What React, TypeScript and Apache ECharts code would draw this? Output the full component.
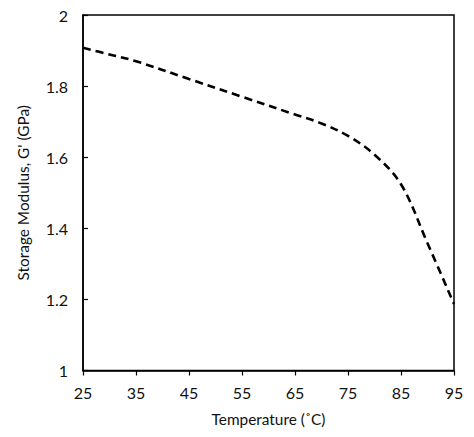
import React, { useEffect, useRef } from "react";
import * as echarts from "echarts";

const temperatures = [25, 30, 35, 45, 55, 65, 70, 75, 80, 85, 90, 95];
const storageModulus = [1.908, 1.889, 1.870, 1.820, 1.770, 1.720, 1.695, 1.660, 1.607, 1.524, 1.358, 1.187];
const xTicks = { min: 25, max: 95, interval: 10 };
const yTicks = { min: 1, max: 2, interval: 0.2 };
const xName = "Temperature (˚C)";
const yName = "Storage Modulus, G' (GPa)";

export default function App() {
  const ref = useRef<HTMLDivElement>(null);
  useEffect(() => {
    if (!ref.current) return;
    const chart = echarts.init(ref.current, undefined, { renderer: "svg" });
    const font = "Lato, 'Open Sans', sans-serif";
    chart.setOption({
      animation: false,
      backgroundColor: "#fff",
      grid: {
        left: 83,
        top: 15,
        right: 20,
        bottom: 66.5,
        show: true,
        borderColor: "#000",
        borderWidth: 1.5,
      },
      xAxis: {
        type: "value",
        min: xTicks.min,
        max: xTicks.max,
        interval: xTicks.interval,
        name: xName,
        nameLocation: "middle",
        nameGap: 41,
        nameTextStyle: { color: "#111", fontSize: 15.4, fontFamily: font },
        axisLine: { show: true, lineStyle: { color: "#000", width: 1.5 } },
        axisTick: { show: true, inside: false, length: 5, lineStyle: { color: "#000", width: 1.2 } },
        axisLabel: { color: "#111", fontSize: 16, fontFamily: font, margin: 14 },
        splitLine: { show: false },
      },
      yAxis: {
        type: "value",
        min: yTicks.min,
        max: yTicks.max,
        interval: yTicks.interval,
        name: yName,
        nameLocation: "middle",
        nameGap: 53,
        nameRotate: 90,
        nameTextStyle: { color: "#111", fontSize: 15.4, fontFamily: font },
        axisLine: { show: true, lineStyle: { color: "#000", width: 1.5 } },
        axisTick: { show: true, inside: true, length: 5, lineStyle: { color: "#000", width: 1.2 } },
        axisLabel: { color: "#111", fontSize: 16, fontFamily: font, margin: 15 },
        splitLine: { show: false },
      },
      series: [
        {
          type: "line",
          data: temperatures.map((t, i) => [t, storageModulus[i]]),
          smooth: 0.35,
          showSymbol: false,
          symbol: "none",
          lineStyle: { color: "#000", width: 2.6, type: [8, 5] },
        },
      ],
    });
    return () => chart.dispose();
  }, []);
  return (
    <div
      ref={ref}
      style={{ position: "fixed", left: 0, top: 0, width: 474, height: 437 }}
    />
  );
}
